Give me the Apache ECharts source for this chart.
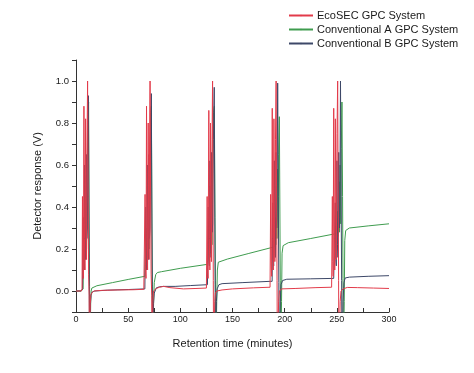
<!DOCTYPE html>
<html>
<head>
<meta charset="utf-8">
<script src="https://cdn.jsdelivr.net/npm/echarts@6/dist/echarts.min.js"></script>
<style>
html,body{margin:0;padding:0;background:#fff;}
#chart{width:474px;height:373px;}
</style>
</head>
<body>
<div id="chart"></div>
<script>
// Series names (legend order)
var seriesNames = ['EcoSEC GPC System', 'Conventional A GPC System', 'Conventional B GPC System'];

// EcoSEC GPC System: [retention time (min), detector response (V)]
var ecosecPoints = [
  [0,0],[5,0],[5.8,0.01],[6.2,0.45],[6.6,0.12],[7.1,0.06],[7.6,0.88],[8.1,0.25],[8.6,0.1],[9.2,0.82],[9.7,0.3],[10.1,0.15],[10.6,0.7],[11.1,1.0],[11.6,0.45],[12.1,0.08],[12.6,-0.02],[12.9,-0.35],[13.4,-0.35],[13.7,-0.06],[14.2,-0.02],[15,-0.01],[17,0],[25,0.003],[40,0.005],[55,0.006],[65,0.008],
  [65.8,0.01],[66.2,0.46],[66.6,0.12],[67.1,0.06],[67.6,0.88],[68.1,0.25],[68.6,0.1],[69.2,0.8],[69.7,0.3],[70.1,0.15],[70.5,0.7],[71,1.0],[71.5,0.45],[72,0.08],[72.6,-0.02],[72.9,-0.35],[73.4,-0.35],[73.7,-0.05],[74.3,0],[77,0.012],[80,0.018],[84,0.022],[90,0.016],[103,0.01],[115,0.012],[125,0.014],
  [125.3,0.016],[125.7,0.45],[126.1,0.14],[126.6,0.06],[127.3,0.86],[127.8,0.25],[128.3,0.1],[128.9,0.8],[129.4,0.3],[129.8,0.14],[130.4,0.72],[130.9,1.0],[131.3,0.4],[131.6,0.05],[131.9,-0.35],[132.6,-0.35],[133,-0.05],[133.6,-0.01],[135,0],[140,0.005],[150,0.01],[170,0.015],[186,0.018],
  [186.2,0.02],[186.6,0.46],[187,0.14],[187.5,0.07],[188.1,0.87],[188.6,0.25],[189.1,0.1],[189.7,0.82],[190.2,0.3],[190.6,0.14],[191.2,0.72],[191.8,1.0],[192.3,0.4],[192.7,0.05],[193,-0.35],[193.8,-0.35],[194.2,-0.05],[195,0],[197,0.01],[210,0.012],[230,0.016],[245,0.018],
  [245.3,0.02],[245.7,0.45],[246.1,0.14],[246.5,0.07],[247,0.87],[247.5,0.25],[248,0.1],[248.6,0.82],[249.1,0.3],[249.5,0.15],[250.2,0.75],[250.8,1.0],[251.3,0.4],[251.7,0.05],[252,-0.35],[252.8,-0.35],[253.2,-0.05],[254,0],[256,0.01],[260,0.017],[270,0.016],[285,0.014],[300,0.012]
];

// Conventional A GPC System
var convAPoints = [
  [0,0],[5,0],[6.8,0.01],[7.3,0.3],[7.8,0.1],[8.4,0.5],[8.9,0.15],[9.6,0.55],[10.1,0.2],[10.8,0.6],[11.5,0.85],[12.1,0.9],[12.6,0.3],[13,0.02],[13.3,-0.35],[13.8,-0.35],[14.1,-0.05],[14.5,0],[15.2,0.014],[17,0.02],[20,0.025],[35,0.04],[50,0.055],[66,0.07],
  [67,0.072],[67.3,0.3],[67.8,0.1],[68.4,0.5],[68.9,0.16],[69.6,0.55],[70.1,0.2],[70.8,0.6],[71.5,0.85],[72.2,0.88],[72.8,0.3],[73.2,0.03],[73.5,-0.35],[74.1,-0.35],[74.4,-0.05],[75,0.04],[76.4,0.078],[78,0.088],[82,0.092],[100,0.108],[126,0.127],
  [127,0.128],[127.5,0.32],[128,0.14],[128.6,0.5],[129.1,0.18],[129.8,0.55],[130.3,0.22],[131,0.6],[131.8,0.85],[132.6,0.88],[133.2,0.35],[133.6,0.05],[133.9,-0.35],[134.6,-0.35],[134.9,-0.05],[135.5,0.1],[136.4,0.137],[138,0.145],[145,0.152],[165,0.178],[186,0.205],[190,0.21],
  [190.5,0.212],[191,0.35],[191.5,0.22],[192.1,0.5],[192.6,0.25],[193.2,0.58],[193.7,0.3],[194.3,0.65],[194.9,0.83],[195.4,0.4],[195.8,0.05],[196.1,-0.35],[196.7,-0.35],[197,-0.05],[197.5,0.18],[198.5,0.216],[203.5,0.23],[225,0.25],[248,0.272],
  [250.5,0.274],[251,0.38],[251.5,0.26],[252.1,0.52],[252.6,0.28],[253.2,0.6],[253.7,0.32],[254.3,0.68],[254.9,0.9],[255.5,0.45],[255.9,0.06],[256.2,-0.35],[256.8,-0.35],[257.1,-0.05],[257.6,0.24],[258.5,0.288],[262,0.3],[280,0.31],[300,0.32]
];

// Conventional B GPC System
var convBPoints = [
  [0,0],[5,0],[6.3,0.01],[6.8,0.35],[7.3,0.12],[7.8,0.1],[8.3,0.6],[8.8,0.2],[9.3,0.15],[9.9,0.65],[10.4,0.25],[10.9,0.3],[11.4,0.66],[11.9,0.93],[12.3,0.4],[12.7,0.02],[13,-0.35],[13.6,-0.35],[13.9,-0.06],[14.4,-0.02],[15.5,-0.005],[18,0],[30,0.004],[50,0.007],[66,0.01],
  [66.3,0.012],[66.8,0.4],[67.3,0.12],[67.8,0.1],[68.3,0.6],[68.8,0.2],[69.3,0.15],[69.9,0.65],[70.4,0.25],[70.9,0.3],[71.5,0.7],[72.2,0.94],[72.7,0.4],[73.1,0.02],[73.4,-0.35],[74,-0.35],[74.3,-0.06],[75,-0.01],[77,0.015],[80,0.02],[84,0.022],[95,0.022],[110,0.026],[126,0.03],
  [126.3,0.03],[126.8,0.4],[127.3,0.14],[127.8,0.12],[128.4,0.62],[128.9,0.22],[129.4,0.16],[130,0.66],[130.5,0.28],[131,0.32],[131.7,0.72],[132.5,0.97],[133,0.4],[133.4,0.03],[133.7,-0.35],[134.3,-0.35],[134.6,-0.05],[135.3,0.01],[137,0.03],[140,0.035],[160,0.04],[186,0.046],
  [188,0.046],[188.5,0.42],[189,0.15],[189.5,0.12],[190.1,0.62],[190.6,0.22],[191.1,0.16],[191.7,0.66],[192.2,0.3],[192.6,0.35],[193.3,0.99],[193.9,0.45],[194.4,0.04],[194.8,-0.35],[195.5,-0.35],[195.8,-0.05],[196.5,0.03],[198,0.05],[202,0.056],[225,0.058],[247,0.06],
  [248,0.06],[248.5,0.42],[249,0.15],[249.5,0.12],[250.1,0.62],[250.6,0.22],[251.1,0.16],[251.8,0.66],[252.3,0.3],[252.8,0.35],[253.5,1.0],[254.1,0.45],[254.6,0.05],[255,-0.35],[255.7,-0.35],[256,-0.05],[256.8,0.04],[258,0.062],[262,0.066],[280,0.07],[300,0.073]
];

// Axis texts
var xAxisName = 'Retention time (minutes)';
var yAxisName = 'Detector response (V)';

var FONT = "'Liberation Sans', Arial, sans-serif";
var chart = echarts.init(document.getElementById('chart'), null, {renderer: 'canvas'});

function lineSeries(name, data, color) {
  return {
    name: name, type: 'line', data: data, symbol: 'none', showSymbol: false,
    clip: true, lineStyle: {width: 1, color: color}, itemStyle: {color: color},
    emphasis: {disabled: true}, animation: false
  };
}

chart.setOption({
  animation: false,
  backgroundColor: '#fff',
  textStyle: {fontFamily: FONT},
  grid: {left: 76, right: 85, top: 60, bottom: 61},
  legend: {
    data: seriesNames,
    orient: 'vertical',
    left: 288, top: 10, padding: 0,
    itemWidth: 24, itemHeight: 2, itemGap: 3,
    textStyle: {fontFamily: FONT, fontSize: 11, color: '#1a1a1a', padding: [0,0,0,-1]},
    selectedMode: false
  },
  xAxis: {
    type: 'value', min: 0, max: 300, interval: 25,
    name: xAxisName, nameLocation: 'middle', nameGap: 26,
    nameTextStyle: {fontFamily: FONT, fontSize: 11, color: '#1a1a1a'},
    axisLine: {onZero: false, lineStyle: {color: '#333', width: 1}},
    axisTick: {inside: true, length: 4, lineStyle: {color: '#333'}},
    axisLabel: {
      fontFamily: FONT, fontSize: 9, color: '#1a1a1a', margin: 3,
      formatter: function (v) { return (Math.round(v) % 50 === 0) ? String(Math.round(v)) : ''; }
    },
    splitLine: {show: false}
  },
  yAxis: {
    type: 'value', min: -0.1, max: 1.1, interval: 0.1,
    name: yAxisName, nameLocation: 'middle', nameGap: 33, nameRotate: 90,
    nameTextStyle: {fontFamily: FONT, fontSize: 11, color: '#1a1a1a'},
    axisLine: {show: true, onZero: false, lineStyle: {color: '#333', width: 1}},
    axisTick: {show: true, inside: false, length: 4, lineStyle: {color: '#333'}},
    axisLabel: {
      fontFamily: FONT, fontSize: 9.5, color: '#1a1a1a', margin: 7,
      formatter: function (v) {
        var t = Math.round(v * 10);
        return (t >= 0 && t <= 10 && t % 2 === 0) ? (t / 10).toFixed(1) : '';
      }
    },
    splitLine: {show: false}
  },
  series: [
    lineSeries(seriesNames[1], convAPoints, '#3f9c4f'),
    lineSeries(seriesNames[2], convBPoints, '#3d4868'),
    lineSeries(seriesNames[0], ecosecPoints, '#e23b4a')
  ]
});
</script>
</body>
</html>
